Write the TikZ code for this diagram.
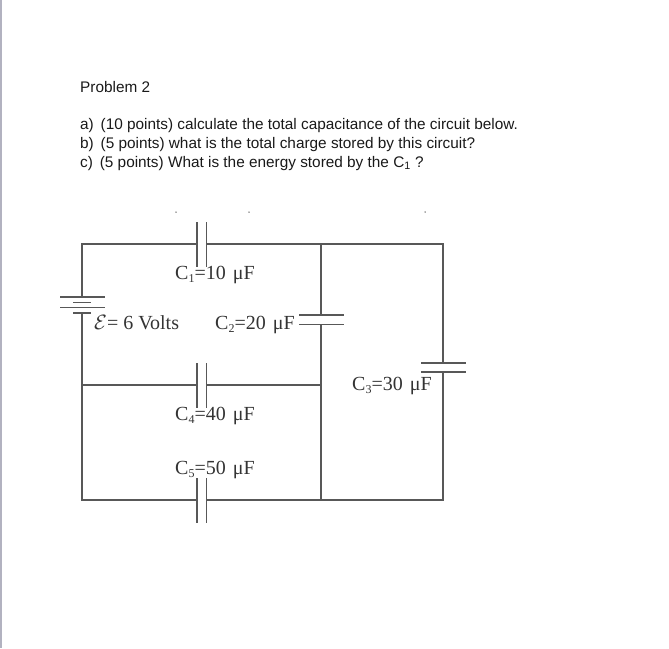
\documentclass[tikz,border=0pt]{standalone}
\usepackage{fontspec}
\setmainfont{Liberation Sans}
\newfontfamily\labelfont{Liberation Serif}
\usetikzlibrary{positioning}
\definecolor{wirecol}{HTML}{585858}
\newcommand{\capsub}[1]{\raisebox{-3.5pt}{\fontsize{12}{12}\selectfont #1}}
\tikzset{
	circuit/.style={x=1pt,y=-1pt,inner sep=0pt},
	wire/.style={draw=wirecol,line width=1.25pt,line cap=rect},
	plate v/.style={rectangle,fill=wirecol,minimum width=1.3pt,minimum height=45pt,inner sep=0pt},
	plate h/.style={rectangle,fill=wirecol,minimum width=45pt,minimum height=1.3pt,inner sep=0pt},
	plate short/.style={rectangle,fill=wirecol,minimum width=18pt,minimum height=1.3pt,inner sep=0pt},
	question/.style={anchor=base west,inner sep=0pt,font=\fontsize{15.35}{17}\selectfont,text=black!90},
	value/.style={anchor=base west,inner sep=0pt,font=\labelfont\fontsize{20}{20}\selectfont,text=black!80},
	speck/.style={circle,fill=wirecol,inner sep=0pt,minimum size=1.5pt}
}

\begin{document}
\begin{tikzpicture}[circuit]
	\useasboundingbox (0,0) rectangle (669,648);
	\fill[fill=blue!10!gray!55] (0,0) rectangle (1.5,648);
	
	\node[question] (title) at (80,92) {Problem 2};
	\node[question] (parta) at (80,129) {a)\, (10 points) calculate the total capacitance of the circuit below.};
	\node[question] (partb) at (80,148) {b)\, (5 points) what is the total charge stored by this circuit?};
	\node[question] (partc) at (80,167) {c)\, (5 points) What is the energy stored by the C\textsubscript{1} ?};
	
	\node[speck] (s1) at (176,212) {};
	\node[speck] (s2) at (249,212) {};
	\node[speck] (s3) at (425,212) {};
	
	% junctions
	\coordinate (tl) at (82,244);
	\coordinate[right=239pt of tl] (tm);
	\coordinate[right=122pt of tm] (tr);
	\coordinate[below=141pt of tl] (ml);
	\coordinate[below=141pt of tm] (mm);
	\coordinate[below=256pt of tl] (bl);
	\coordinate[below=256pt of tm] (bm);
	\coordinate[below=256pt of tr] (br);
	
	% capacitors
	\node[plate v] (c1a) at (197,244) {};
	\node[plate v] (c1b) [right=7.8pt of c1a] {};
	\node[plate v] (c4a) at (197,385) {};
	\node[plate v] (c4b) [right=7.8pt of c4a] {};
	\node[plate v] (c5a) at (197,500) {};
	\node[plate v] (c5b) [right=7.8pt of c5a] {};
	\node[plate h] (c2a) at (321,315) {};
	\node[plate h] (c2b) [below=7.8pt of c2a] {};
	\node[plate h] (c3a) at (443,363) {};
	\node[plate h] (c3b) [below=7.4pt of c3a] {};
	
	% battery
	\node[plate h] (b1) at (82,297) {};
	\node[plate short] (b2) [below=3.6pt of b1] {};
	\node[plate h] (b3) [below=3.6pt of b2] {};
	\node[plate short] (b4) [below=3.6pt of b3] {};
	
	\path[wire] (tl) -- (c1a);
	\path[wire] (c1b) -- (tm);
	\path[wire] (tm) -- (tr);
	\path[wire] (tl) -- (b1);
	\path[wire] (b4) -- (ml);
	\path[wire] (ml) -- (bl);
	\path[wire] (ml) -- (c4a);
	\path[wire] (c4b) -- (mm);
	\path[wire] (bl) -- (c5a);
	\path[wire] (c5b) -- (bm);
	\path[wire] (bm) -- (br);
	\path[wire] (tm) -- (c2a);
	\path[wire] (c2b) -- (mm);
	\path[wire] (mm) -- (bm);
	\path[wire] (tr) -- (c3a);
	\path[wire] (c3b) -- (br);
	
	\node[value] (c1) at (175,279) {C\capsub{1}=10\kern2pt{} μF};
	\node[value] (emf) at (94,329) {$\mathcal{E}$= 6 Volts};
	\node[value] (c2) at (215,329) {C\capsub{2}=20\kern2pt{} μF};
	\node[value] (c3) at (352,390) {C\capsub{3}=30\kern2pt{} μF};
	\node[value] (c4) at (175,420) {C\capsub{4}=40\kern2pt{} μF};
	\node[value] (c5) at (175,474) {C\capsub{5}=50\kern2pt{} μF};
	
\end{tikzpicture}
\end{document}
